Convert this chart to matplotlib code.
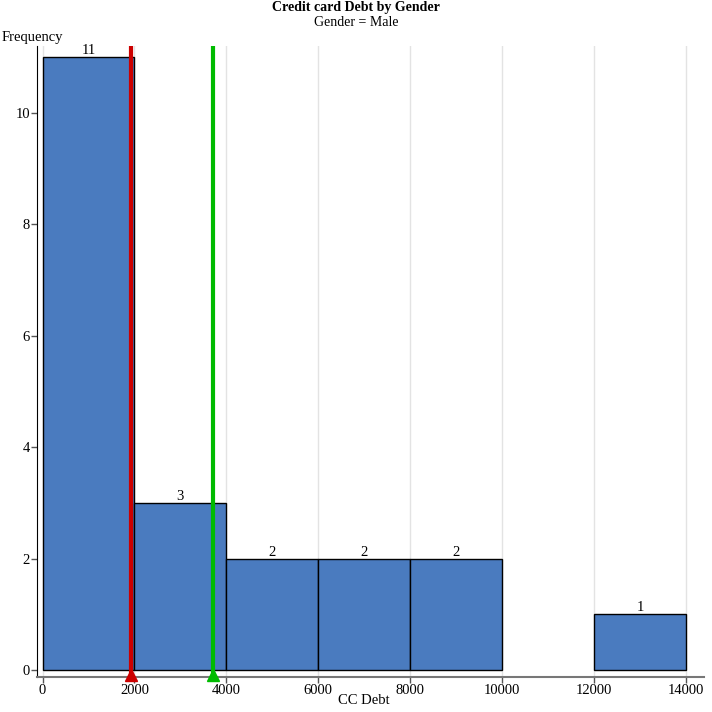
import matplotlib
matplotlib.use("Agg")
import matplotlib.pyplot as plt
import numpy as np

bin_edges = [0, 2000, 4000, 6000, 8000, 10000, 12000, 14000]
counts = [11, 3, 2, 2, 2, 0, 1]
median_val = 1935
mean_val = 3700
x_ticks = [0, 2000, 4000, 6000, 8000, 10000, 12000, 14000]
y_ticks = [0, 2, 4, 6, 8, 10]

plt.rcParams['font.family'] = ['Liberation Serif', 'DejaVu Serif']

fig = plt.figure(figsize=(7.12, 7.12), dpi=100)
ax = fig.add_axes([37/712, 1-677/712, (704-37)/712, (677-46)/712])

xmin, xmax = -120, 14390
ymin, ymax = -0.126, 11.2
ax.set_xlim(xmin, xmax)
ax.set_ylim(ymin, ymax)

for t in x_ticks:
    ax.axvline(t, color='#e3e3e3', lw=1, zorder=0)

lefts = np.array(bin_edges[:-1])
widths = np.diff(bin_edges)
for l, w, c in zip(lefts, widths, counts):
    if c > 0:
        ax.bar(l, c, width=w, align='edge', color='#4a7bbf', edgecolor='black', linewidth=1, zorder=2)
        ax.text(l + w/2, c, str(c), ha='center', va='bottom', fontsize=10.5, zorder=3)

for v, col in [(median_val, '#cc0000'), (mean_val, '#00bb00')]:
    ax.plot([v, v], [ymin, ymax], color=col, lw=3, zorder=4, clip_on=False, solid_capstyle='butt')
    ax.plot([v], [ymin + 0.03], marker='^', color=col, markersize=8, zorder=5, clip_on=False)

ax.spines['top'].set_visible(False)
ax.spines['right'].set_visible(False)
ax.spines['left'].set_color('black')
ax.spines['bottom'].set_color('#777777')
ax.spines['bottom'].set_linewidth(1.5)

ax.set_xticks(x_ticks)
ax.set_yticks(y_ticks)
ax.tick_params(axis='both', labelsize=10.5, length=4, width=1, color='#555555', pad=1)
ax.set_xticklabels([str(t) for t in x_ticks])

fig.text(0.5, 1-8/712, 'Credit card Debt by Gender', ha='center', va='center', fontsize=10, fontweight='bold')
fig.text(0.5, 1-22/712, 'Gender = Male', ha='center', va='center', fontsize=10)
fig.text(2/712, 1-37/712, 'Frequency', ha='left', va='center', fontsize=10.5)
fig.text((42+686)/2/712, 1-700/712, 'CC Debt', ha='center', va='center', fontsize=10.5)

fig.savefig('out.png', dpi=100)
